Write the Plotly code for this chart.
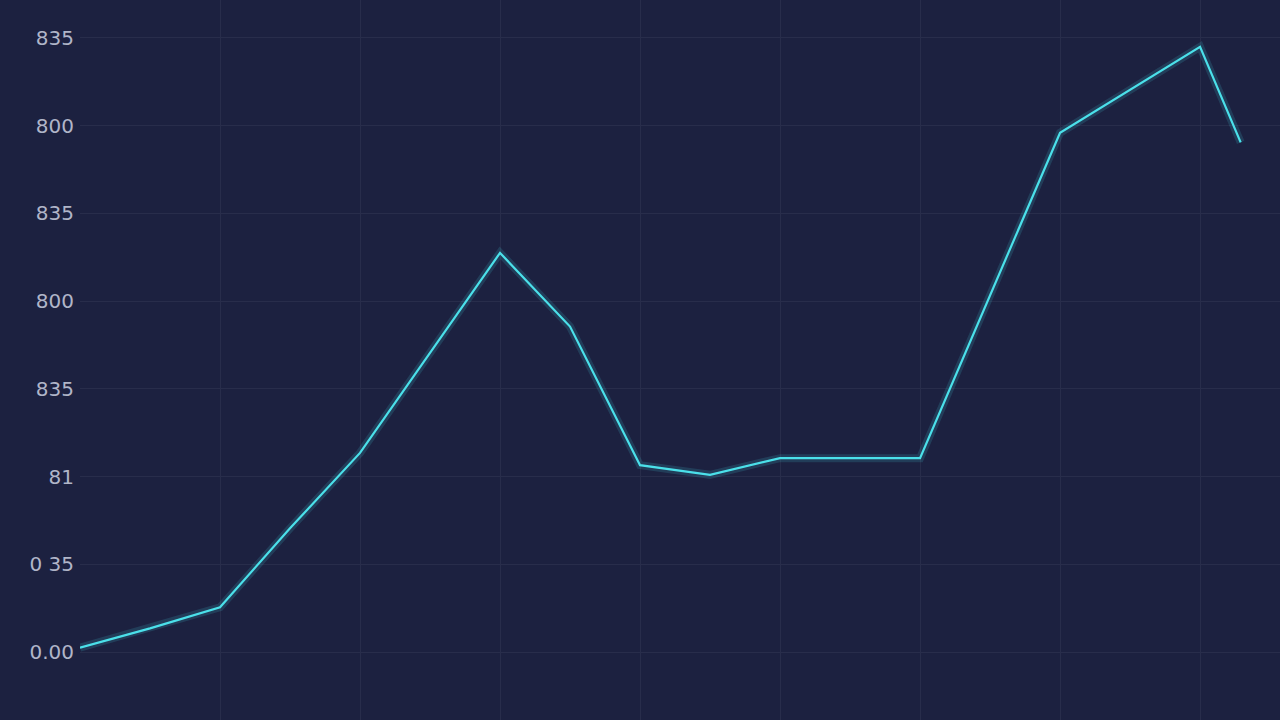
import plotly.graph_objects as go

# x in grid-column units, y in tick-step units
x_vals = [0, 0.5, 1, 1.5, 2, 3, 3.5, 4, 4.5, 5, 6, 7, 8, 8.29]
y_vals = [0.05, 0.27, 0.51, 1.41, 2.27, 4.55, 3.71, 2.13, 2.02, 2.21, 2.21, 5.92, 6.90, 5.81]

tick_vals = [0, 1, 2, 3, 4, 5, 6, 7]
tick_text = ["0.00", "0 35", "81", "835", "800", "835", "800", "835"]

BG = "#1c2140"
GRID = "#282d4b"
LINE = "#4be0ea"

fig = go.Figure()

# soft glow under the main line
fig.add_trace(go.Scatter(
    x=x_vals, y=y_vals, mode="lines",
    line=dict(color="rgba(75, 224, 234, 0.15)", width=8),
    hoverinfo="skip", showlegend=False
))
fig.add_trace(go.Scatter(
    x=x_vals, y=y_vals, mode="lines",
    line=dict(color=LINE, width=2.2),
    showlegend=False
))

fig.update_layout(
    width=1280, height=720,
    margin=dict(l=80, r=0, t=0, b=0),
    paper_bgcolor=BG,
    plot_bgcolor=BG,
    font=dict(family="DejaVu Sans", color="#b0b5c8", size=20),
)
fig.update_xaxes(
    range=[0, 8.571], dtick=1, showticklabels=False,
    showgrid=True, gridcolor=GRID, gridwidth=1,
    zeroline=False, showline=True, linecolor=GRID, linewidth=1,
)
fig.update_yaxes(
    range=[-0.775, 7.433],
    tickmode="array", tickvals=tick_vals, ticktext=tick_text,
    showgrid=True, gridcolor=GRID, gridwidth=1,
    zeroline=False, ticklabelstandoff=5,
)

# drop the browser's default body margin so the chart fills the window
fig.write_html(
    "out.html",
    config={"displayModeBar": False},
    post_script="document.body.style.margin='0';document.body.style.background='%s';" % BG,
)
